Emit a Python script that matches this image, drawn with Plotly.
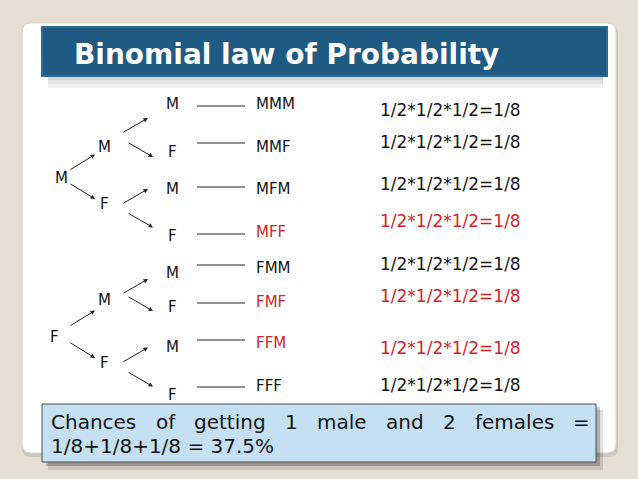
import plotly.graph_objects as go

# ---- data ----
roots = ["M", "F"]
level1 = ["M", "F", "M", "F"]
level2 = ["M", "F", "M", "F", "M", "F", "M", "F"]
outcomes = ["MMM", "MMF", "MFM", "MFF", "FMM", "FMF", "FFM", "FFF"]
probs = ["1/2*1/2*1/2=1/8", "1/2*1/2*1/2=1/8", "1/2*1/2*1/2=1/8", "1/2*1/2*1/2=1/8",
         "1/2*1/2*1/2=1/8", "1/2*1/2*1/2=1/8", "1/2*1/2*1/2=1/8", "1/2*1/2*1/2=1/8"]
highlight = [False, False, False, True, False, True, True, False]

title = "Binomial law of Probability"
summary_line1 = "Chances of getting 1 male and 2 females ="
summary_line2 = "1/8+1/8+1/8 = 37.5%"

# ---- layout (pixel coordinates of the slide) ----
W, H = 638, 479
root_x = [61, 54]
root_y = [178, 337]
lvl1_x = 104
lvl1_y = [147, 204, 300, 363]
lvl2_x = 172
lvl2_y = [104, 152, 189, 236, 273, 307, 347, 395]
dash_y = [106, 143, 187, 234, 265, 303, 340, 387]
out_y = [104, 147, 189, 232, 268, 302, 343, 386]
prob_y = [110, 142, 184, 221, 264, 296, 348, 385]

BLACK = "#141414"
RED = "#d0262b"
FONT = "DejaVu Sans"

fig = go.Figure()
fig.update_layout(width=W, height=H, margin=dict(l=0, r=0, t=0, b=0),
                  paper_bgcolor="#e4ded3", plot_bgcolor="#e4ded3",
                  showlegend=False, font=dict(family=FONT, color=BLACK))
fig.update_xaxes(range=[0, W], visible=False, fixedrange=True)
fig.update_yaxes(range=[H, 0], visible=False, fixedrange=True)


def rounded(x0, y0, x1, y1, r):
    return (f"M {x0+r},{y0} L {x1-r},{y0} Q {x1},{y0} {x1},{y0+r} "
            f"L {x1},{y1-r} Q {x1},{y1} {x1-r},{y1} L {x0+r},{y1} "
            f"Q {x0},{y1} {x0},{y1-r} L {x0},{y0+r} Q {x0},{y0} {x0+r},{y0} Z")


def rect(x0, y0, x1, y1, fill, line=None, lw=0):
    fig.add_shape(type="rect", x0=x0, y0=y0, x1=x1, y1=y1, xref="x", yref="y",
                  fillcolor=fill, line=dict(color=line or fill, width=lw), layer="below")


# white panel with soft shadow
fig.add_shape(type="path", path=rounded(22, 25, 618, 457, 9), fillcolor="rgba(0,0,0,0.10)",
              line=dict(width=0), layer="below")
fig.add_shape(type="path", path=rounded(22, 23, 616, 453, 9), fillcolor="white",
              line=dict(color="#d8d4cc", width=1), layer="below")

# title bar with drop shadow
for i, a in enumerate([0.22, 0.14, 0.07]):
    rect(48, 76 + 4 * i, 603, 80 + 4 * i, f"rgba(60,60,60,{a})")
rect(42, 27, 607, 76, "#1e5a82", "#2c6b95", 2)
fig.add_annotation(x=72, y=54, xref="x", yref="y", text=f"<b>{title}</b>", showarrow=False,
                   xanchor="left", yanchor="middle", font=dict(size=28, color="white", family=FONT))

# tree text
def label(x, y, txt, color=BLACK, size=15, anchor="center"):
    fig.add_annotation(x=x, y=y, xref="x", yref="y", text=txt, showarrow=False,
                       xanchor=anchor, yanchor="middle", font=dict(size=size, color=color, family=FONT))


def arrow(x0, y0, x1, y1):
    fig.add_annotation(x=x1, y=y1, ax=x0, ay=y0, xref="x", yref="y", axref="x", ayref="y",
                       text="", showarrow=True, arrowhead=2, arrowsize=0.9, arrowwidth=1,
                       arrowcolor="#222")


for i, r in enumerate(roots):
    label(root_x[i], root_y[i], r)
    for k in range(2):
        j = 2 * i + k
        cy = (root_y[i] + lvl1_y[j]) / 2
        h = 8
        if k == 0:
            arrow(69, cy + h, 95, cy - h)
        else:
            arrow(69, cy - h, 95, cy + h)

for j, c in enumerate(level1):
    label(lvl1_x, lvl1_y[j], c)
    for k in range(2):
        m = 2 * j + k
        cy = (lvl1_y[j] + lvl2_y[m]) / 2
        h = 7.5
        if k == 0:
            arrow(122, cy + h, 148, cy - h)
        else:
            arrow(127, cy - h, 153, cy + h)

for m, c in enumerate(level2):
    label(lvl2_x, lvl2_y[m], c)
    fig.add_shape(type="line", x0=197, x1=245, y0=dash_y[m], y1=dash_y[m], xref="x", yref="y",
                  line=dict(color="#222", width=1))
    col = RED if highlight[m] else BLACK
    label(254, out_y[m], outcomes[m], col, 15, "left")
    label(378, prob_y[m], probs[m], col, 17, "left")

# summary box with shadow
rect(48, 410, 603, 470, "rgba(0,0,0,0.12)")
rect(46, 407, 600, 466, "rgba(0,0,0,0.22)")
rect(42, 404, 596, 462, "#c6e0f3", "#4c4c4c", 1)

# justify first line between the box margins
CW = {"C": .698, "h": .634, "a": .613, "n": .634, "c": .550, "e": .615, "s": .521,
      "o": .612, "f": .352, "g": .635, "t": .392, "i": .278, "1": .636, "m": .974,
      "l": .278, "d": .635, "2": .636, "=": .838}
fs = 20
words = summary_line1.split()
widths = [sum(CW.get(ch, .6) for ch in w) * fs for w in words]
left, right = 49, 588
gap = (right - left - sum(widths)) / (len(words) - 1)
x = left
for w, wd in zip(words, widths):
    label(x, 422, w, BLACK, fs, "left")
    x += wd + gap
label(left, 446, summary_line2, BLACK, fs, "left")

fig.write_html("out.html", config={"displayModeBar": False},
               post_script="document.body.style.margin='0';")
